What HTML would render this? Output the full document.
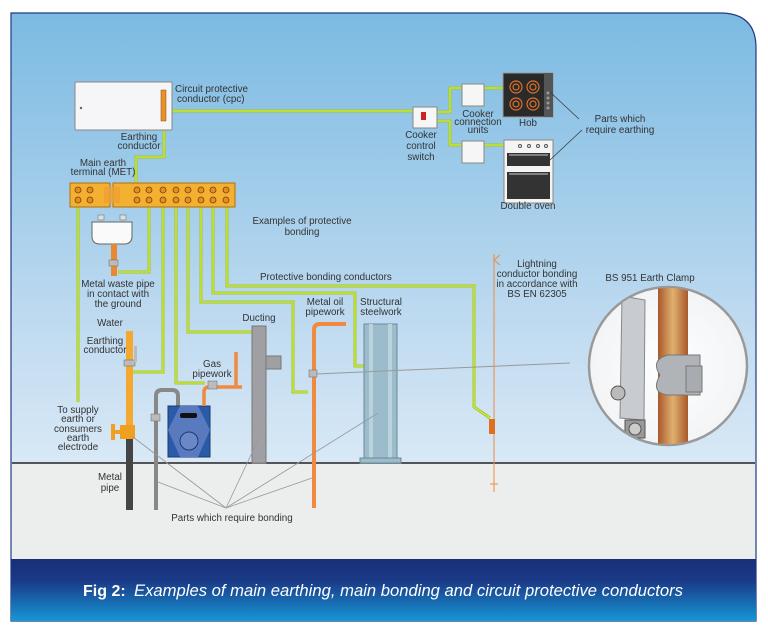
<!DOCTYPE html>
<html><head><meta charset="utf-8"><style>
html,body{margin:0;padding:0;background:#fff;}
svg{display:block;}
text{font-family:"Liberation Sans",sans-serif;font-size:9.8px;fill:#333;}
</style></head><body>
<svg width="768" height="637" viewBox="0 0 768 637" xmlns="http://www.w3.org/2000/svg">
<defs>
<linearGradient id="sky" x1="0" y1="0" x2="0" y2="1">
<stop offset="0" stop-color="#7bbae2"/><stop offset="0.55" stop-color="#c4ddf1"/><stop offset="1" stop-color="#f4f8fc"/>
</linearGradient>
<linearGradient id="cap" x1="0" y1="0" x2="0" y2="1">
<stop offset="0" stop-color="#1a2e78"/><stop offset="0.35" stop-color="#1a3a86"/><stop offset="1" stop-color="#1796d6"/>
</linearGradient>
<linearGradient id="cu" x1="0" y1="0" x2="1" y2="0">
<stop offset="0" stop-color="#a8582a"/><stop offset="0.5" stop-color="#e0b070"/><stop offset="1" stop-color="#a8582a"/>
</linearGradient>
<radialGradient id="circ" cx="0.5" cy="0.5" r="0.5"><stop offset="0" stop-color="#fff"/><stop offset="1" stop-color="#f2f4f6"/></radialGradient>
</defs>
<path d="M11,13 H720 Q756,13 756,48 V621 H11 Z" fill="url(#sky)" stroke="#223a80" stroke-width="1.2"/>
<rect x="12" y="463" width="743" height="96" fill="#eceeed"/>
<line x1="12" y1="463" x2="755" y2="463" stroke="#222" stroke-width="1.5"/>
<rect x="11" y="559" width="745" height="62" fill="url(#cap)"/>
<text x="83" y="596" style="font-size:16px;font-weight:bold;fill:#fff">Fig 2:</text>
<text x="134" y="596" style="font-size:16.5px;font-style:italic;fill:#fff" textLength="549" lengthAdjust="spacingAndGlyphs">Examples of main earthing, main bonding and circuit protective conductors</text>

<g fill="none" stroke-linejoin="miter">
<g stroke="#9ccc28" stroke-width="3">
<path d="M168,111 H415"/>
<path d="M437,112 H450 V88 H503"/>
<path d="M437,121 H450 V145 H504"/>
<path d="M164,121 V157 H136 V183"/>
<path d="M78,207 V402"/>
<path d="M149,207 V272 H118"/>
<path d="M163,207 V372 H133"/>
<path d="M176,207 V383 H205"/>
<path d="M188,207 V332 H252"/>
<path d="M201,207 V302 H293 V392 H308"/>
<path d="M213,207 V293 H355 V366 H365"/>
<path d="M227,207 V286 H474 V407 L490,418"/>
</g>
<g stroke="#e8e840" stroke-width="1">
<path d="M168,111 H415"/>
<path d="M437,112 H450 V88 H503"/>
<path d="M437,121 H450 V145 H504"/>
<path d="M164,121 V157 H136 V183"/>
<path d="M78,207 V402"/>
<path d="M149,207 V272 H118"/>
<path d="M163,207 V372 H133"/>
<path d="M176,207 V383 H205"/>
<path d="M188,207 V332 H252"/>
<path d="M201,207 V302 H293 V392 H308"/>
<path d="M213,207 V293 H355 V366 H365"/>
<path d="M227,207 V286 H474 V407 L490,418"/>
</g>
</g>

<rect x="75" y="82" width="97" height="48" fill="#f6f6f8" stroke="#888" rx="1"/>
<circle cx="81" cy="108" r="1.2" fill="#666"/>
<rect x="161" y="90" width="5" height="31" fill="#e8902a" stroke="#8a5010" stroke-width="0.5"/>
<text x="175" y="92">Circuit protective</text>
<text x="177" y="102">conductor (cpc)</text>
<text x="139" y="140" text-anchor="middle">Earthing</text>
<text x="139" y="149" text-anchor="middle">conductor</text>
<text x="103" y="166" text-anchor="middle">Main earth</text>
<text x="103" y="175" text-anchor="middle">terminal (MET)</text>

<rect x="70" y="183" width="40" height="24" fill="#f4b030" stroke="#b07010"/>
<rect x="113" y="183" width="122" height="24" fill="#f4b030" stroke="#b07010"/>
<rect x="104" y="187" width="16" height="16" fill="#f0a030" opacity="0.8"/>
<g fill="#e09020" stroke="#7a3e10" stroke-width="0.8">
<circle cx="78" cy="190" r="3"/><circle cx="90" cy="190" r="3"/><circle cx="78" cy="200" r="3"/><circle cx="90" cy="200" r="3"/>
<circle cx="137" cy="190" r="3"/><circle cx="149" cy="190" r="3"/><circle cx="163" cy="190" r="3"/><circle cx="176" cy="190" r="3"/><circle cx="188" cy="190" r="3"/><circle cx="201" cy="190" r="3"/><circle cx="213" cy="190" r="3"/><circle cx="226" cy="190" r="3"/>
<circle cx="137" cy="200" r="3"/><circle cx="149" cy="200" r="3"/><circle cx="163" cy="200" r="3"/><circle cx="176" cy="200" r="3"/><circle cx="188" cy="200" r="3"/><circle cx="201" cy="200" r="3"/><circle cx="213" cy="200" r="3"/><circle cx="226" cy="200" r="3"/>
</g>

<rect x="413" y="107" width="24" height="21" fill="#f6f6f6" stroke="#888"/>
<rect x="421" y="112" width="5" height="8" fill="#d02020"/>
<text x="421" y="138" text-anchor="middle">Cooker</text>
<text x="421" y="149" text-anchor="middle">control</text>
<text x="421" y="160" text-anchor="middle">switch</text>
<rect x="462" y="84" width="22" height="22" fill="#f6f6f6" stroke="#888"/>
<rect x="462" y="141" width="22" height="22" fill="#f6f6f6" stroke="#888"/>
<text x="478" y="117" text-anchor="middle">Cooker</text>
<text x="478" y="125" text-anchor="middle">connection</text>
<text x="478" y="133" text-anchor="middle">units</text>
<rect x="503" y="73" width="50" height="44" fill="#2a2a2a" stroke="#999"/>
<rect x="544" y="73" width="9" height="44" fill="#555"/>
<g fill="none" stroke="#e07028" stroke-width="1.2">
<circle cx="516" cy="87" r="6"/><circle cx="516" cy="87" r="3"/><circle cx="533" cy="87" r="6"/><circle cx="533" cy="87" r="3"/>
<circle cx="516" cy="104" r="6"/><circle cx="516" cy="104" r="3"/><circle cx="533" cy="104" r="6"/><circle cx="533" cy="104" r="3"/>
</g>
<g fill="#999"><circle cx="548" cy="93" r="1.5"/><circle cx="548" cy="98" r="1.5"/><circle cx="548" cy="103" r="1.5"/><circle cx="548" cy="108" r="1.5"/></g>
<text x="528" y="126" text-anchor="middle">Hob</text>
<rect x="504" y="140" width="49" height="63" fill="#f4f4f4" stroke="#888"/>
<g fill="none" stroke="#555"><circle cx="520" cy="146" r="1.5"/><circle cx="529" cy="146" r="1.5"/><circle cx="538" cy="146" r="1.5"/><circle cx="546" cy="146" r="1.5"/></g>
<rect x="507" y="153" width="43" height="13" fill="#333"/>
<rect x="507" y="172" width="43" height="27" fill="#333"/>
<line x1="509" y1="155" x2="548" y2="155" stroke="#ccc"/>
<line x1="509" y1="174" x2="548" y2="174" stroke="#ccc"/>
<text x="528" y="209" text-anchor="middle">Double oven</text>
<line x1="550" y1="92" x2="579" y2="119" stroke="#333" stroke-width="0.7"/>
<line x1="550" y1="160" x2="582" y2="130" stroke="#333" stroke-width="0.7"/>
<text x="620" y="122" text-anchor="middle">Parts which</text>
<text x="620" y="133" text-anchor="middle">require earthing</text>

<text x="302" y="224" text-anchor="middle">Examples of protective</text>
<text x="302" y="235" text-anchor="middle">bonding</text>
<text x="260" y="280">Protective bonding conductors</text>

<path d="M92,222 H132 V236 Q132,244 124,244 H100 Q92,244 92,236 Z" fill="#fafafa" stroke="#666"/>
<rect x="98" y="215" width="6" height="5" fill="#ddd" stroke="#666" stroke-width="0.5"/>
<rect x="120" y="215" width="6" height="5" fill="#ddd" stroke="#666" stroke-width="0.5"/>
<rect x="111" y="244" width="6" height="32" fill="#e88830"/>
<rect x="109" y="260" width="9" height="6" fill="#bbb" stroke="#666" stroke-width="0.5"/>
<text x="118" y="287" text-anchor="middle">Metal waste pipe</text>
<text x="118" y="297" text-anchor="middle">in contact with</text>
<text x="118" y="307" text-anchor="middle">the ground</text>

<rect x="126" y="331" width="7" height="104" fill="#f4a830"/>
<rect x="126" y="435" width="7" height="75" fill="#444"/>
<rect x="124" y="360" width="11" height="6" fill="#bbb" stroke="#666" stroke-width="0.5"/>
<rect x="134" y="346" width="3" height="16" fill="#bbb"/>
<rect x="120" y="425" width="15" height="14" fill="#f0a020"/>
<rect x="112" y="430" width="8" height="4" fill="#f0a020"/>
<rect x="111" y="424" width="4" height="16" fill="#f0a020"/>
<text x="110" y="326" text-anchor="middle">Water</text>
<text x="105" y="344" text-anchor="middle">Earthing</text>
<text x="105" y="353" text-anchor="middle">conductor</text>
<text x="78" y="413" text-anchor="middle">To supply</text>
<text x="78" y="422" text-anchor="middle">earth or</text>
<text x="78" y="432" text-anchor="middle">consumers</text>
<text x="78" y="441" text-anchor="middle">earth</text>
<text x="78" y="450" text-anchor="middle">electrode</text>
<text x="110" y="480" text-anchor="middle">Metal</text>
<text x="110" y="491" text-anchor="middle">pipe</text>

<path d="M156,510 V396 Q156,390 162,390 H172 Q178,390 178,396 V406" fill="none" stroke="#888" stroke-width="4"/>
<rect x="151" y="414" width="9" height="7" fill="#bbb" stroke="#666" stroke-width="0.5"/>
<rect x="168" y="406" width="42" height="51" fill="#2a5aa8" stroke="#1a3a70"/>
<path d="M168,430 L180,406 H198 L210,430 L198,457 H180 Z" fill="#5a7ac0"/>
<circle cx="189" cy="441" r="9" fill="#6a88c8" stroke="#1a3a70"/>
<rect x="180" y="413" width="17" height="5" rx="2" fill="#111"/>
<path d="M204,406 V392 Q204,387 209,387 H242 M236,388 V352" fill="none" stroke="#f08a40" stroke-width="3.5"/>
<rect x="208" y="381" width="9" height="8" fill="#bbb" stroke="#666" stroke-width="0.5"/>
<text x="212" y="367" text-anchor="middle">Gas</text>
<text x="212" y="377" text-anchor="middle">pipework</text>

<rect x="252" y="326" width="14" height="137" fill="#a0a0a4" stroke="#777"/>
<rect x="266" y="356" width="15" height="13" fill="#a0a0a4" stroke="#777"/>
<text x="259" y="321" text-anchor="middle">Ducting</text>

<path d="M314,508 V330 Q314,324 320,324 H346" fill="none" stroke="#f08a40" stroke-width="4"/>
<rect x="309" y="370" width="8" height="7" fill="#bbb" stroke="#666" stroke-width="0.5"/>
<text x="325" y="305" text-anchor="middle">Metal oil</text>
<text x="325" y="315" text-anchor="middle">pipework</text>

<rect x="364" y="324" width="33" height="134" fill="#9cbccc" stroke="#6a8a9a"/>
<rect x="369" y="324" width="4" height="134" fill="#b8d2de"/>
<rect x="388" y="324" width="4" height="134" fill="#b8d2de"/>
<rect x="360" y="458" width="41" height="5" fill="#9cbccc" stroke="#6a8a9a"/>
<text x="381" y="305" text-anchor="middle">Structural</text>
<text x="381" y="315" text-anchor="middle">steelwork</text>

<line x1="494" y1="254" x2="494" y2="492" stroke="#f08a40" stroke-width="1"/>
<path d="M500,255 L494,260 L500,265" fill="none" stroke="#f08a40"/>
<line x1="490" y1="484" x2="498" y2="484" stroke="#f08a40"/>
<rect x="489" y="419" width="6" height="15" fill="#e07020"/>
<text x="537" y="267" text-anchor="middle">Lightning</text>
<text x="537" y="277" text-anchor="middle">conductor bonding</text>
<text x="537" y="287" text-anchor="middle">in accordance with</text>
<text x="537" y="297" text-anchor="middle">BS EN 62305</text>

<line x1="316" y1="374" x2="570" y2="363" stroke="#999" stroke-width="1"/>
<text x="650" y="281" text-anchor="middle">BS 951 Earth Clamp</text>
<circle cx="668" cy="366" r="79" fill="url(#circ)" stroke="#999" stroke-width="2.5"/>
<clipPath id="cc"><circle cx="668" cy="366" r="78"/></clipPath>
<g clip-path="url(#cc)">
<rect x="658" y="280" width="30" height="170" fill="url(#cu)"/>
<path d="M622,296 L645,300 L644,420 L620,418 Z" fill="#c8ccd0" stroke="#888"/>
<path d="M660,375 Q650,360 668,355 H700 V395 H668 Q650,393 660,375 Z" fill="#b0b4b8" stroke="#777"/>
<rect x="686" y="366" width="16" height="26" fill="#a8acb0" stroke="#777"/>
<circle cx="618" cy="393" r="7" fill="#bbb" stroke="#555"/>
<rect x="625" y="420" width="20" height="18" fill="#999" stroke="#555"/>
<circle cx="635" cy="429" r="6" fill="#ccc" stroke="#555"/>
</g>

<g stroke="#999" stroke-width="0.8">
<line x1="226" y1="508" x2="133" y2="437"/>
<line x1="226" y1="508" x2="158" y2="482"/>
<line x1="226" y1="508" x2="259" y2="438"/>
<line x1="226" y1="508" x2="312" y2="478"/>
<line x1="226" y1="508" x2="378" y2="413"/>
</g>
<text x="232" y="521" text-anchor="middle">Parts which require bonding</text>
</svg>
</body></html>
